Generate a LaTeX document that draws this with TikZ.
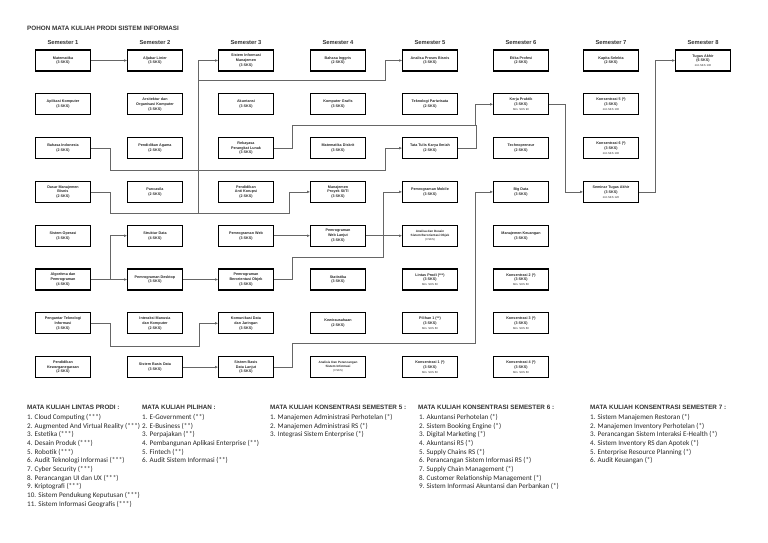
\documentclass[tikz,border=0pt]{standalone}
\usepackage{fontspec}
\setmainfont{Liberation Sans}
\newfontfamily\listfont{Carlito}
\usetikzlibrary{arrows.meta}
\newcommand{\minsks}[1]{{\fontsize{2.8}{3.4}\selectfont\mdseries #1}}
\tikzset{
 course/.style={draw=black, line width=1.1pt, minimum width=54.5pt, minimum height=21pt, inner sep=0.5pt, align=center, font=\fontsize{3.7}{4.8}\selectfont\bfseries, text=black!85},
 smallcourse/.style={course, font=\fontsize{3.1}{4}\selectfont\bfseries},
 link/.style={draw=black!60, line width=0.75pt},
 arr/.style={link, -{Latex[length=3pt,width=2.6pt]}},
 sem/.style={font=\fontsize{5.8}{7}\selectfont\bfseries, text=black!80},
 hdr/.style={anchor=base west, inner sep=0, font=\fontsize{6.3}{7.5}\selectfont\bfseries, text=black!80},
 item/.style={anchor=base west, inner sep=0, font=\listfont\fontsize{7.1}{8.6}\selectfont, text=black!85},
}
\begin{document}
\begin{tikzpicture}[x=1pt,y=-1pt]
\useasboundingbox (0,0) rectangle (768,543);
\node[hdr] (title) at (27,31) {POHON MATA KULIAH PRODI SISTEM INFORMASI};
% semester headers
\foreach \x [count=\i] in {63,155,246,338,430,521,611,703}
  \node[sem] (s\i) at (\x,43) {Semester \i};
% row 1
\node[course] (c1r1) at (63,60.5) {Matematika\\(3 SKS)};
\node[course] (c2r1) at (155,60.5) {Aljabar Linier\\(3 SKS)};
\node[course] (c3r1) at (246,60.5) {Sistem Informasi\\Manajemen\\(3 SKS)};
\node[course] (c4r1) at (338,60.5) {Bahasa Inggris\\(2 SKS)};
\node[course] (c5r1) at (430,60.5) {Analisa Proses Bisnis\\(3 SKS)};
\node[course] (c6r1) at (521,60.5) {Etika Profesi\\(2 SKS)};
\node[course] (c7r1) at (611,60.5) {Kapita Selekta\\(2 SKS)};
\node[course] (c8r1) at (703,60.5) {Tugas Akhir\\(6 SKS)\\\minsks{min SKS 130}};
% row 2
\node[course] (c1r2) at (63,104.3) {Aplikasi Komputer\\(3 SKS)};
\node[course] (c2r2) at (155,104.3) {Arsitektur dan\\Organisasi Komputer\\(3 SKS)};
\node[course] (c3r2) at (246,104.3) {Akuntansi\\(3 SKS)};
\node[course] (c4r2) at (338,104.3) {Komputer Grafis\\(3 SKS)};
\node[course] (c5r2) at (430,104.3) {Teknologi Pariwisata\\(2 SKS)};
\node[course] (c6r2) at (521,104.3) {Kerja Praktik\\(3 SKS)\\\minsks{Min. SKS 90}};
\node[course] (c7r2) at (611,104.3) {Konsentrasi 5 (*)\\(3 SKS)\\\minsks{min SKS 100}};
% row 3
\node[course] (c1r3) at (63,148.1) {Bahasa Indonesia\\(2 SKS)};
\node[course] (c2r3) at (155,148.1) {Pendidikan Agama\\(2 SKS)};
\node[course] (c3r3) at (246,148.1) {Rekayasa\\Perangkat Lunak\\(3 SKS)};
\node[course] (c4r3) at (338,148.1) {Matematika Diskrit\\(3 SKS)};
\node[course] (c5r3) at (430,148.1) {Tata Tulis Karya Ilmiah\\(2 SKS)};
\node[course] (c6r3) at (521,148.1) {Technopreneur\\(2 SKS)};
\node[course] (c7r3) at (611,148.1) {Konsentrasi 6 (*)\\(3 SKS)\\\minsks{min SKS 100}};
% row 4
\node[course] (c1r4) at (63,191.9) {Dasar Manajemen\\Bisnis\\(2 SKS)};
\node[course] (c2r4) at (155,191.9) {Pancasila\\(2 SKS)};
\node[course] (c3r4) at (246,191.9) {Pendidikan\\Anti Korupsi\\(2 SKS)};
\node[course] (c4r4) at (338,191.9) {Manajemen\\Proyek SI/TI\\(3 SKS)};
\node[course] (c5r4) at (430,191.9) {Pemrograman Mobile\\(3 SKS)};
\node[course] (c6r4) at (521,191.9) {Big Data\\(3 SKS)};
\node[course] (c7r4) at (611,191.9) {Seminar Tugas Akhir\\(3 SKS)\\\minsks{min SKS 120}};
% row 5
\node[course] (c1r5) at (63,235.7) {Sistem Operasi\\(3 SKS)};
\node[course] (c2r5) at (155,235.7) {Struktur Data\\(4 SKS)};
\node[course] (c3r5) at (246,235.7) {Pemrograman Web\\(3 SKS)};
\node[course] (c4r5) at (338,235.7) {Pemrograman\\Web Lanjut\\(3 SKS)};
\node[smallcourse] (c5r5) at (430,235.7) {Analisa dan Desain\\Sistem Berorientasi Objek\\\minsks{(3 SKS)}};
\node[course] (c6r5) at (521,235.7) {Manajemen Keuangan\\(3 SKS)};
% row 6
\node[course] (c1r6) at (63,279.5) {Algoritma dan\\Pemrograman\\(4 SKS)};
\node[course] (c2r6) at (155,279.5) {Pemrograman Desktop\\(3 SKS)};
\node[course] (c3r6) at (246,279.5) {Pemrograman\\Berorientasi Objek\\(3 SKS)};
\node[course] (c4r6) at (338,279.5) {Statistika\\(3 SKS)};
\node[course] (c5r6) at (430,279.5) {Lintas Prodi (***)\\(3 SKS)\\\minsks{Min. SKS 60}};
\node[course] (c6r6) at (521,279.5) {Konsentrasi 2 (*)\\(3 SKS)\\\minsks{Min. SKS 60}};
% row 7
\node[course] (c1r7) at (63,323.3) {Pengantar Teknologi\\Informasi\\(3 SKS)};
\node[course] (c2r7) at (155,323.3) {Interaksi Manusia\\dan Komputer\\(2 SKS)};
\node[course] (c3r7) at (246,323.3) {Komunikasi Data\\dan Jaringan\\(3 SKS)};
\node[course] (c4r7) at (338,323.3) {Kewirausahaan\\(2 SKS)};
\node[course] (c5r7) at (430,323.3) {Pilihan 1 (**)\\(3 SKS)\\\minsks{Min. SKS 60}};
\node[course] (c6r7) at (521,323.3) {Konsentrasi 3 (*)\\(3 SKS)\\\minsks{Min. SKS 60}};
% row 8
\node[course] (c1r8) at (63,367.1) {Pendidikan\\Kewarganegaraan\\(2 SKS)};
\node[course] (c2r8) at (155,367.1) {Sistem Basis Data\\(3 SKS)};
\node[course] (c3r8) at (246,367.1) {Sistem Basis\\Data Lanjut\\(3 SKS)};
\node[smallcourse] (c4r8) at (338,367.1) {Analisis Dan Perancangan\\Sistem Informasi\\\minsks{(3 SKS)}};
\node[course] (c5r8) at (430,367.1) {Konsentrasi 1 (*)\\(3 SKS)\\\minsks{Min. SKS 60}};
\node[course] (c6r8) at (521,367.1) {Konsentrasi 4 (*)\\(3 SKS)\\\minsks{Min. SKS 60}};
% connectors
\coordinate (j1) at (198,213);
\coordinate (j2) at (198,80);
\coordinate (j3) at (476,125);
\draw[arr] (c1r1) -- (c2r1);
\draw[arr] (c1r4.east) -| (110,213) -| ([xshift=-21pt]c4r4.west) -- (c4r4.west);
\draw[arr] (j1) |- (c3r1.west);
\draw[arr] (j2) -| ([xshift=-17pt]c5r1.west) -- (c5r1.west);
\draw[arr] (c1r3.east) -| (110,170) -| ([xshift=-17pt]c5r3.west) -- (c5r3.west);
\draw[arr] (c3r3.east) -| (292,125) -| ([xshift=-18pt]c6r2.west) -- (c6r2.west);
\draw[link] (c5r3.east) -| (j3);
\draw[arr] (c6r2.east) -| ([xshift=-18pt]c7r4.west) -- (c7r4.west);
\draw[arr] (c7r4.east) -| ([xshift=-20pt]c8r1.west) -- (c8r1.west);
\draw[arr] (c1r6) -- (c2r6);
\draw[arr] (c1r6.east) -| ([xshift=-17pt]c2r5.west) -- (c2r5.west);
\draw[arr] (c2r6) -- (c3r6);
\draw[arr] (c3r6.east) -| (292,257) -| ([xshift=-19pt]c5r4.west) -- (c5r4.west);
\draw[arr] (c3r5) -- (c4r5);
\draw[arr] (c4r5) -- (c5r5);
\draw[arr] (c3r8.east) -| (292,343) -| ([xshift=-18pt]c6r4.west) -- (c6r4.west);
\draw[arr] (c2r8) -- (c3r8);
\draw[arr] (c1r7.east) -| (110,346) -| ([xshift=-19pt]c3r7.west) -- (c3r7.west);
% lists
\node[hdr] (ha) at (27,409) {MATA KULIAH LINTAS PRODI :};
\foreach \t [count=\i] in {1. Cloud Computing (***),2. Augmented And Virtual Reality (***),3. Estetika (***),4. Desain Produk (***),5. Robotik (***),6. Audit Teknologi Informasi (***),7. Cyber Security (***),8. Perancangan UI dan UX (***),9. Kriptografi (***),10. Sistem Pendukung Keputusan (***),11. Sistem Informasi Geografis (***)}
  \node[item] (a\i) at (27,{419.6+8.65*(\i-1)}) {\t};
\node[hdr] (hb) at (142,409) {MATA KULIAH PILIHAN :};
\foreach \t [count=\i] in {1. E-Government (**),2. E-Business (**),3. Perpajakan (**),4. Pembangunan Aplikasi Enterprise (**),5. Fintech (**),6. Audit Sistem Informasi (**)}
  \node[item] (b\i) at (142,{419.6+8.65*(\i-1)}) {\t};
\node[hdr] (hc) at (270,409) {MATA KULIAH KONSENTRASI SEMESTER 5 :};
\foreach \t [count=\i] in {1. Manajemen Administrasi Perhotelan (*),2. Manajemen Administrasi RS (*),3. Integrasi Sistem Enterprise (*)}
  \node[item] (c\i) at (270,{419.6+8.65*(\i-1)}) {\t};
\node[hdr] (hd) at (418,409) {MATA KULIAH KONSENTRASI SEMESTER 6 :};
\foreach \t [count=\i] in {1. Akuntansi Perhotelan (*),2. Sistem Booking Engine (*),3. Digital Marketing (*),4. Akuntansi RS (*),5. Supply Chains RS (*),6. Perancangan Sistem Informasi RS (*),7. Supply Chain Management (*),8. Customer Relationship Management (*),9. Sistem Informasi Akuntansi dan Perbankan (*)}
  \node[item] (d\i) at (419,{419.6+8.65*(\i-1)}) {\t};
\node[hdr] (he) at (590,409) {MATA KULIAH KONSENTRASI SEMESTER 7 :};
\foreach \t [count=\i] in {1. Sistem Manajemen Restoran (*),2. Manajemen Inventory Perhotelan (*),3. Perancangan Sistem Interaksi E-Health (*),4. Sistem Inventory RS dan Apotek (*),5. Enterprise Resource Planning (*),6. Audit Keuangan (*)}
  \node[item] (e\i) at (590,{419.6+8.65*(\i-1)}) {\t};
\end{tikzpicture}
\end{document}
